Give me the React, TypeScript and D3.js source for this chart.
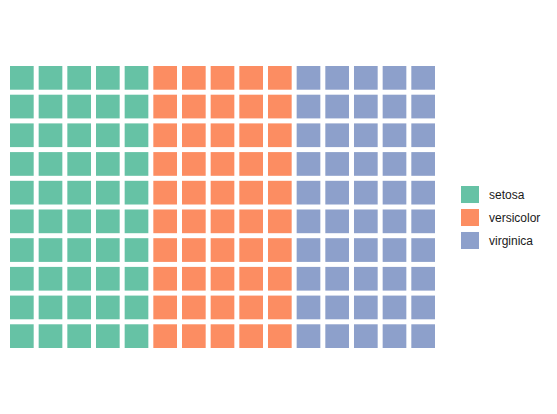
import React from "react";
import * as d3 from "d3";

const species = ["setosa", "versicolor", "virginica"];
const counts = [50, 50, 50];
const colors = ["#66C2A5", "#FC8D62", "#8DA0CB"];
const nCols = 15;
const nRows = 10;

export default function App() {
  const width = 557;
  const height = 414;
  const x = d3.scaleBand<number>().domain(d3.range(nCols)).range([10, 435]).paddingInner(0.174);
  const y = d3.scaleBand<number>().domain(d3.range(nRows)).range([66, 348]).paddingInner(0.174);
  const color = d3.scaleOrdinal<string, string>().domain(species).range(colors);

  const cells: { col: number; row: number; sp: string }[] = [];
  let idx = 0;
  species.forEach((sp, i) => {
    for (let k = 0; k < counts[i]; k++) {
      cells.push({ col: Math.floor(idx / nRows), row: idx % nRows, sp });
      idx++;
    }
  });

  const legendY = d3.scaleBand<string>().domain(species).range([186, 249]).paddingInner(0.26);

  return (
    <svg width={width} height={height} style={{ position: "absolute", left: 0, top: 0 }}>
      <rect width={width} height={height} fill="#ffffff" />
      {cells.map((c, i) => (
        <rect key={i} x={x(c.col)} y={y(c.row)} width={x.bandwidth()} height={y.bandwidth()} fill={color(c.sp)} />
      ))}
      {species.map((sp) => (
        <g key={sp}>
          <rect x={461} y={legendY(sp)} width={18} height={legendY.bandwidth()} fill={color(sp)} />
          <text
            x={489}
            y={(legendY(sp) as number) + legendY.bandwidth() / 2}
            dy="0.35em"
            fontFamily="Liberation Sans, Arial, sans-serif"
            fontSize={12}
            fill="#1A1A1A"
          >
            {sp}
          </text>
        </g>
      ))}
    </svg>
  );
}
